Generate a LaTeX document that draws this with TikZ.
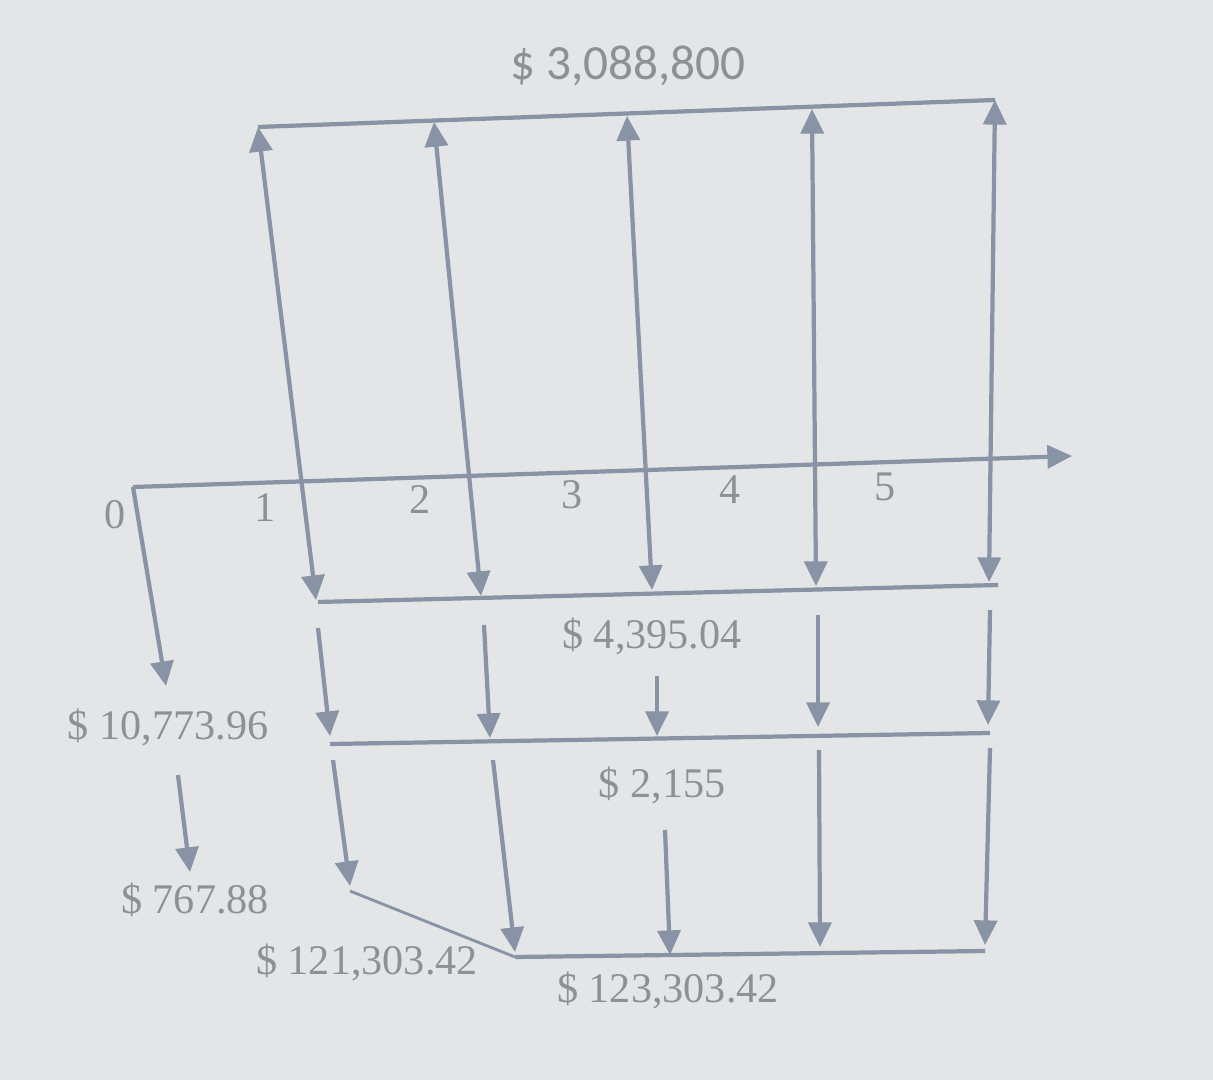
\documentclass[tikz,border=0pt]{standalone}
\usepackage{fontspec}
\usepackage{xcolor}
\setmainfont{Liberation Serif}
\newfontfamily\topfont{Carlito}
\definecolor{flowgrey}{HTML}{8893A5}
\definecolor{labelgrey}{HTML}{8D9097}
\definecolor{screenbg}{HTML}{E4E5E7}
\usetikzlibrary{arrows.meta}

\begin{document}
\begin{tikzpicture}[x=0.01cm, y=-0.01cm, >={Triangle[width=6.5pt, length=7pt]}]
	\tikzset{flow/.style={draw=flowgrey, line width=1.2pt}, amount/.style={text=labelgrey, inner sep=0pt, font=\fontsize{12}{14}\selectfont}}
	
	\fill[screenbg] (0,0) rectangle (1213,1080);
	\useasboundingbox (0,0) rectangle (1213,1080);
	
	% receipts on top
	\coordinate (t1) at (258,127);
	\coordinate (t2) at (434,122);
	\coordinate (t3) at (627,116);
	\coordinate (t4) at (812,109);
	\coordinate (t5) at (995,100);
	\coordinate (b1) at (316,600);
	\coordinate (b2) at (481,596);
	\coordinate (b3) at (652,590);
	\coordinate (b4) at (816,586);
	\coordinate (b5) at (989,582);
	\node[amount, font=\topfont\fontsize{14}{16}\selectfont] (income) at (628,66) {\$ 3,088,800};
	
	\draw[flow] (t1) -- (t5);
	\draw[flow, <->] (t1) -- (b1);
	\draw[flow, <->] (t2) -- (b2);
	\draw[flow, <->] (t3) -- (b3);
	\draw[flow, <->] (t4) -- (b4);
	\draw[flow, <->] (t5) -- (b5);
	
	% time line
	\coordinate (origin) at (133,487);
	\coordinate (axisend) at (1072,456);
	\coordinate (c0) at (166,686);
	\draw[flow, ->] (origin) -- (axisend);
	\draw[flow, ->] (origin) -- (c0);
	\node[amount] (n0) at (115,515) {0};
	\node[amount] (n1) at (265,508) {1};
	\node[amount] (n2) at (420,500) {2};
	\node[amount] (n3) at (572,495) {3};
	\node[amount] (n4) at (730,490) {4};
	\node[amount] (n5) at (885,487) {5};
	
	% first level of costs
	\coordinate (r1a) at (318,602);
	\coordinate (r1b) at (998,585);
	\draw[flow] (r1a) -- (r1b);
	\node[amount] (maint) at (652,636) {\$ 4,395.04};
	\node[amount] (invest) at (168,727) {\$ 10,773.96};
	\node[amount] (salvage) at (195,900) {\$ 767.88};
	
	\coordinate (s1) at (318,628);  \coordinate (e1) at (330,736);
	\coordinate (s2) at (484,625);  \coordinate (e2) at (490,738);
	\coordinate (s3) at (657,676);  \coordinate (e3) at (657,736);
	\coordinate (s4) at (818,615);  \coordinate (e4) at (818,727);
	\coordinate (s5) at (990,610);  \coordinate (e5) at (988,725);
	\draw[flow, ->] (s1) -- (e1);
	\draw[flow, ->] (s2) -- (e2);
	\draw[flow, ->] (s3) -- (e3);
	\draw[flow, ->] (s4) -- (e4);
	\draw[flow, ->] (s5) -- (e5);
	\coordinate (i1) at (178,775);
	\coordinate (i2) at (190,872);
	\draw[flow, ->] (i1) -- (i2);
	
	% second level of costs
	\coordinate (r2a) at (330,744);
	\coordinate (r2b) at (990,733);
	\draw[flow] (r2a) -- (r2b);
	\node[amount] (labour) at (662,785) {\$ 2,155};
	
	\coordinate (u1) at (333,760);  \coordinate (v1) at (350,886);
	\coordinate (u2) at (493,760);  \coordinate (v2) at (515,952);
	\coordinate (u3) at (665,830);  \coordinate (v3) at (670,955);
	\coordinate (u4) at (819,750);  \coordinate (v4) at (820,947);
	\coordinate (u5) at (990,748);  \coordinate (v5) at (985,945);
	\draw[flow, ->] (u1) -- (v1);
	\draw[flow, ->] (u2) -- (v2);
	\draw[flow, ->] (u3) -- (v3);
	\draw[flow, ->] (u4) -- (v4);
	\draw[flow, ->] (u5) -- (v5);
	
	% totals
	\coordinate (k1) at (350,891);
	\coordinate (k2) at (515,957);
	\coordinate (r3b) at (985,951);
	\draw[flow, line width=0.8pt] (k1) -- (k2);
	\draw[flow] (k2) -- (r3b);
	\node[amount] (total1) at (367,962) {\$ 121,303.42};
	\node[amount] (total2) at (668,990) {\$ 123,303.42};
\end{tikzpicture}
\end{document}
